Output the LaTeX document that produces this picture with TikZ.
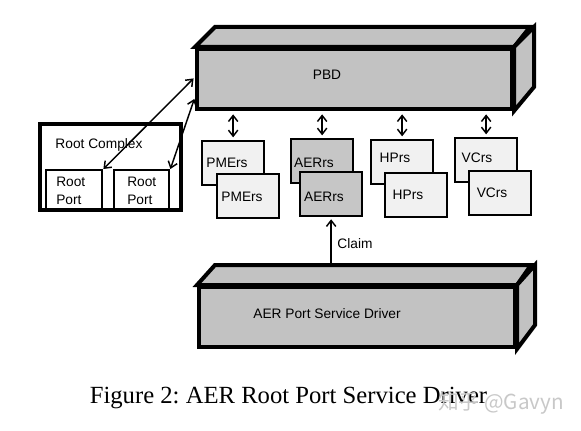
\documentclass[tikz,border=0pt]{standalone}
\usepackage{xcolor}
\usepackage{fontspec}
\setmainfont{Liberation Sans}
\newfontfamily\capfont{Liberation Serif}
\newfontfamily\cjkfont{Noto Sans CJK SC}
\usetikzlibrary{arrows,arrows.meta,calc}
\frenchspacing

\begin{document}
\begin{tikzpicture}[x=0.75pt,y=0.75pt,yscale=-1,xscale=1,
  bigbox/.style={draw, line width=3pt, fill={rgb, 255:red, 194; green, 194; blue, 194 }, inner sep=0pt, anchor=north west},
  bigface/.style={draw, line width=3pt, fill={rgb, 255:red, 194; green, 194; blue, 194 }, line join=miter},
  rsbox/.style={draw, line width=1.7pt, fill={rgb, 255:red, 241; green, 241; blue, 241 }, inner sep=0pt, anchor=north west, minimum width=46.5pt, minimum height=33pt},
  aerbox/.style={rsbox, fill={rgb, 255:red, 198; green, 198; blue, 198 }},
  portbox/.style={draw, line width=1.8pt, fill=white, inner sep=0pt, anchor=north west, minimum height=29.25pt},
  lbl/.style={inner sep=0.75pt, font=\fontsize{10.3}{13.5}\selectfont},
  >={Straight Barb[length=4.5pt,width=7pt]},
  dbl/.style={<->, line width=1.1pt}
  ]
  \useasboundingbox (0,0) rectangle (581,431);

  %Shape: Cube [id:pbd]
  \node (pbd) [bigbox, minimum width=236.25pt, minimum height=45pt] at (195,47) {};
  \draw [bigface] (pbd.north west) -- ++(20,-20) -- ++(315,0) -- (pbd.north east) -- cycle ;
  \draw [bigface] (pbd.north east) -- ++(20,-20) -- ++(0,60) -- (pbd.south east) -- cycle ;
  % Text Node
  \node (pbdt) [lbl] at (327,75) {PBD};

  %Shape: Cube [id:psd]
  \node (psd) [bigbox, minimum width=237pt, minimum height=45pt] at (197,285) {};
  \draw [bigface] (psd.north west) -- ++(18,-20) -- ++(316,0) -- (psd.north east) -- cycle ;
  \draw [bigface] (psd.north east) -- ++(18,-20) -- ++(0,60) -- (psd.south east) -- cycle ;
  \coordinate (psdtop) at ($(psd.north west)+(18,-20)$);
  % Text Node
  \node (psdt) [lbl] at (327,314) {AER Port Service Driver};

  %Shape: Rectangle [id:rc]
  \node (rc) [draw, line width=3pt, fill=white, inner sep=0pt, anchor=north west, minimum width=105.75pt, minimum height=64.5pt] at (38,122) {};
  % Text Node
  \node (rct) [lbl] at (99,145) {Root Complex};
  %Shape: Rectangle [id:rp1]
  \node (rp1) [portbox, minimum width=42pt] at (45,169) {};
  %Shape: Rectangle [id:rp2]
  \node (rp2) [portbox, minimum width=41.25pt] at (113,169) {};
  % Text Node
  \node (rp1t) [lbl, anchor=west, align=left] at (55,191) {Root\\Port};
  % Text Node
  \node (rp2t) [lbl, anchor=west, align=left] at (126,191) {Root\\Port};

  %Shape: Rectangle [id:pmeA]
  \node (pmeA) [rsbox] at (201,140) {};
  \node (pmeAt) [lbl] at (227,163) {PMErs};
  %Shape: Rectangle [id:pmeB]
  \node (pmeB) [rsbox] at (216,173) {};
  \node (pmeBt) [lbl] at (242,197) {PMErs};

  %Shape: Rectangle [id:aerA]
  \node (aerA) [aerbox] at (290,138) {};
  \node (aerAt) [lbl] at (314,163) {AERrs};
  %Shape: Rectangle [id:aerB]
  \node (aerB) [aerbox] at (299,171) {};
  \node (aerBt) [lbl] at (324,197) {AERrs};

  %Shape: Rectangle [id:hpA]
  \node (hpA) [rsbox] at (370,139) {};
  \node (hpAt) [lbl] at (395,158) {HPrs};
  %Shape: Rectangle [id:hpB]
  \node (hpB) [rsbox] at (384,172) {};
  \node (hpBt) [lbl] at (408,195) {HPrs};

  %Shape: Rectangle [id:vcA]
  \node (vcA) [rsbox] at (454,137) {};
  \node (vcAt) [lbl] at (477,158) {VCrs};
  %Shape: Rectangle [id:vcB]
  \node (vcB) [rsbox] at (468,170) {};
  \node (vcBt) [lbl] at (492,193) {VCrs};

  %Straight Lines: PBD <-> resources
  \draw [dbl, shorten <=2.5pt, shorten >=2pt] (pmeA.north |- pbd.south) -- (pmeA.north) ;
  \draw [dbl, shorten <=2.5pt, shorten >=2pt] (aerA.north |- pbd.south) -- (aerA.north) ;
  \draw [dbl, shorten <=2.5pt, shorten >=2pt] (hpA.north |- pbd.south) -- (hpA.north) ;
  \draw [dbl, shorten <=2.5pt, shorten >=2pt] (vcA.north |- pbd.south) -- (vcA.north) ;

  %Straight Lines: root ports <-> PBD
  \draw [dbl, shorten >=1.5pt] (rp1.north east) -- ($(pbd.west)+(0,-2)$) ;
  \draw [dbl, shorten >=1.5pt] (rp2.north east) -- ($(pbd.west)+(0,18)$) ;

  %Straight Lines: claim
  \draw [->, line width=1.1pt, shorten >=1.5pt] (aerB.south |- psdtop) -- (aerB.south) ;
  % Text Node
  \node (claimt) [lbl] at (355,244) {Claim};

  % Text Node
  \node (cap) [inner sep=0pt, anchor=base, font=\capfont\fontsize{18.5}{22}\selectfont] at (288.5,403) {Figure 2: AER Root Port Service Driver};
  % Text Node
  \node (wm) [inner sep=0pt, anchor=base west, text={rgb, 255:red, 200; green, 200; blue, 200 }, font=\cjkfont\fontsize{15.5}{17}\selectfont] at (438,409) {知乎 @Gavyn};

\end{tikzpicture}
\end{document}
